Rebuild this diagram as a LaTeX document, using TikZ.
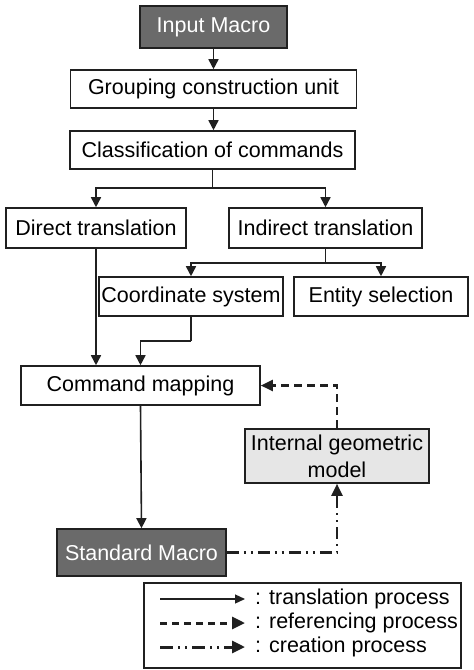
\documentclass[tikz,border=0pt]{standalone}
\usepackage{fontspec}
\setmainfont{Liberation Sans}
\usetikzlibrary{arrows.meta}
\definecolor{darkbox}{HTML}{6A6A6A}
\definecolor{lightbox}{HTML}{E6E6E6}
\definecolor{linecol}{HTML}{202020}
\begin{document}
\begin{tikzpicture}[x=1pt,y=-1pt,
  every node/.style={font=\fontsize{21.5}{27}\selectfont},
  box/.style={draw=linecol,line width=1.6pt,rectangle,inner sep=0pt,fill=white,text=black},
  darkbx/.style={box,fill=darkbox,text=white},
  lightbx/.style={box,fill=lightbox,align=center},
  trans/.style={draw=linecol,line width=1.6pt,-{Triangle[length=10pt,width=10pt]}},
  plain/.style={draw=linecol,line width=1.6pt},
  refer/.style={draw=linecol,line width=2.4pt,dash pattern=on 8pt off 5pt,-{Triangle[length=12pt,width=11pt]}},
  create/.style={draw=linecol,line width=2.4pt,dash pattern=on 12pt off 5pt on 2pt off 5pt on 2pt off 5pt,-{Triangle[length=12pt,width=11pt]}},
  legtext/.style={anchor=west,inner sep=0pt,text=black}
]
\useasboundingbox (0,0) rectangle (474,670);
\node[darkbx,minimum width=147pt,minimum height=42pt] (input) at (213.5,27) {Input Macro};
\node[box,minimum width=286pt,minimum height=38pt] (group) at (213.5,89) {Grouping construction unit};
\node[box,minimum width=285pt,minimum height=38pt] (class) at (212.5,150) {Classification of commands};
\node[box,minimum width=180pt,minimum height=40pt] (direct) at (96,228) {Direct translation};
\node[box,minimum width=193pt,minimum height=40pt] (indirect) at (325.5,228) {Indirect translation};
\node[box,minimum width=184pt,minimum height=39pt] (coord) at (191,296.5) {Coordinate system};
\node[box,minimum width=174pt,minimum height=39pt] (entity) at (381,296.5) {Entity selection};
\node[box,minimum width=239pt,minimum height=39pt] (cmd) at (140.5,385.5) {Command mapping};
\node[lightbx,minimum width=184pt,minimum height=54pt] (internal) at (337,456) {Internal geometric\\model};
\node[darkbx,minimum width=169pt,minimum height=47pt] (std) at (141.5,552.5) {Standard Macro};
\node[box,minimum width=317pt,minimum height=85pt] (legend) at (302.5,625.5) {};

\coordinate (b1) at (212.5,188);
\coordinate (b2) at (325.5,263);
\coordinate (b3) at (191,341);

\draw[trans] (input.south) -- (group.north);
\draw[trans] (group.south) -- (group.south |- class.north);
\draw[plain] (class.south) -- (b1);
\draw[trans] (b1) -| (direct.north);
\draw[trans] (b1) -| (indirect.north);
\draw[plain] (indirect.south) -- (b2);
\draw[trans] (b2) -| (coord.north);
\draw[trans] (b2) -| (entity.north);
\draw[plain] (coord.south) -- (b3);
\draw[trans] (b3) -| (cmd.north);
\draw[trans] (direct.south) -- (direct.south |- cmd.north);
\draw[trans] (cmd.south) -- (std.north);
\draw[refer] (internal.north) |- (cmd.east);
\draw[create] (std.east) -| (internal.south);

\coordinate (l1a) at (160,599); \coordinate (l1b) at (245,599);
\coordinate (l2a) at (160,623); \coordinate (l2b) at (245,623);
\coordinate (l3a) at (160,647); \coordinate (l3b) at (245,647);
\draw[draw=linecol,line width=1.2pt,-{Triangle[length=10pt,width=9pt]}] (l1a) -- (l1b);
\draw[draw=linecol,line width=3pt,dash pattern=on 7pt off 5pt,-{Triangle[length=13pt,width=12pt]}] (l2a) -- (l2b);
\draw[draw=linecol,line width=3pt,dash pattern=on 13pt off 5pt on 2pt off 5pt on 2pt off 5pt,-{Triangle[length=13pt,width=12pt]}] (l3a) -- (l3b);
\node[legtext] (t1) at (255,599) {: translation process};
\node[legtext] (t2) at (255,623) {: referencing process};
\node[legtext] (t3) at (255,647) {: creation process};
\end{tikzpicture}
\end{document}
